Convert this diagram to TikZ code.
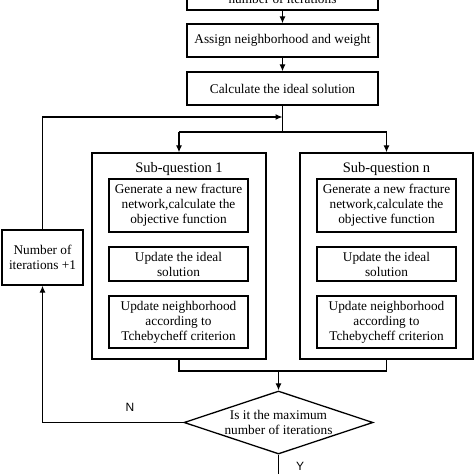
\documentclass[tikz,border=0pt]{standalone}
\usepackage{fontspec}
\setmainfont{Liberation Serif}
\newfontfamily\labfont{Liberation Sans}
\usetikzlibrary{arrows.meta,shapes.geometric}
\begin{document}
\begin{tikzpicture}[x=1pt,y=-1pt,
  line width=1.2pt,
  box/.style={draw,line width=1.3pt,minimum width=#1,inner sep=0pt,align=center,font=\fontsize{13.3}{15}\selectfont},
  box/.default=191pt,
  arr/.style={-{Latex[length=7pt,width=6pt]}},
  title/.style={font=\fontsize{14.5}{16}\selectfont},
  lab/.style={font=\labfont\fontsize{12}{14}\selectfont}]
\useasboundingbox (0,0) rectangle (474,474);
% top (cut) box
\node[box,minimum height=50pt] (init) at (282.5,-15) {};
\node[anchor=base,font=\fontsize{13.3}{15}\selectfont] (inittxt) at (282.5,3.5) {number of iterations};
\node[box,minimum height=33pt] (assign) at (282.5,40.5) {Assign neighborhood and weight};
\node[box,minimum height=33pt] (calc) at (282.5,88.5) {Calculate the ideal solution};
% sub-question boxes
\node[box=174pt,minimum height=206pt] (sub1) at (179,256) {};
\node[box=173pt,minimum height=206pt] (subn) at (386.5,256) {};
\node[title] (t1) at (179,169) {Sub-question 1};
\node[title] (tn) at (386.5,169) {Sub-question n};
\node[box=139pt,minimum height=53pt] (g1) at (178.5,205.5) {Generate a new fracture\\network,calculate the\\objective function};
\node[box=139pt,minimum height=34pt] (u1) at (178.5,264) {Update the ideal\\solution};
\node[box=139pt,minimum height=52pt] (n1) at (178.5,322) {Update neighborhood\\according to\\Tchebycheff criterion};
\node[box=139pt,minimum height=53pt] (gn) at (386.5,205.5) {Generate a new fracture\\network,calculate the\\objective function};
\node[box=139pt,minimum height=34pt] (un) at (386.5,264) {Update the ideal\\solution};
\node[box=139pt,minimum height=52pt] (nn) at (386.5,322) {Update neighborhood\\according to\\Tchebycheff criterion};
% loop box
\node[box=81pt,minimum height=55pt] (iter) at (42.5,257.5) {Number of\\iterations +1};
% diamond
\node[draw,line width=1.3pt,diamond,aspect=3,minimum width=189pt,minimum height=63pt,inner sep=0pt] (dec) at (278.5,422.5) {};
\node[align=center,font=\fontsize{13.3}{15}\selectfont] (dectxt) at (278.5,422.5) {Is it the maximum\\number of iterations};
% coordinates
\coordinate (split) at (282.5,132);
\coordinate (sl) at (179,132);
\coordinate (sr) at (386.5,132);
\coordinate (ml) at (179,371);
\coordinate (mr) at (386.5,371);
\coordinate (mm) at (278.5,371);
\coordinate (lb) at (42.5,422.5);
\coordinate (lt) at (42.5,117);
\coordinate (lj) at (282.5,117);
\coordinate (yend) at (278.5,480);
% connectors
\draw[arr] (init.south) -- (assign.north);
\draw[arr] (assign.south) -- (calc.north);
\draw (calc.south) -- (split);
\draw (sl) -- (sr);
\draw[arr] (sl) -- (sub1.north);
\draw[arr] (sr) -- (subn.north);
\draw (sub1.south) -- (ml) -- (mr) -- (subn.south);
\draw[arr] (mm) -- (dec.north);
\draw[arr] (dec.west) -- (lb) -- (iter.south);
\draw[arr] (iter.north) -- (lt) -- (lj);
\draw (dec.south) -- (yend);
\node[lab] (nlab) at (130,407) {N};
\node[lab] (ylab) at (300,466) {Y};
\end{tikzpicture}
\end{document}
